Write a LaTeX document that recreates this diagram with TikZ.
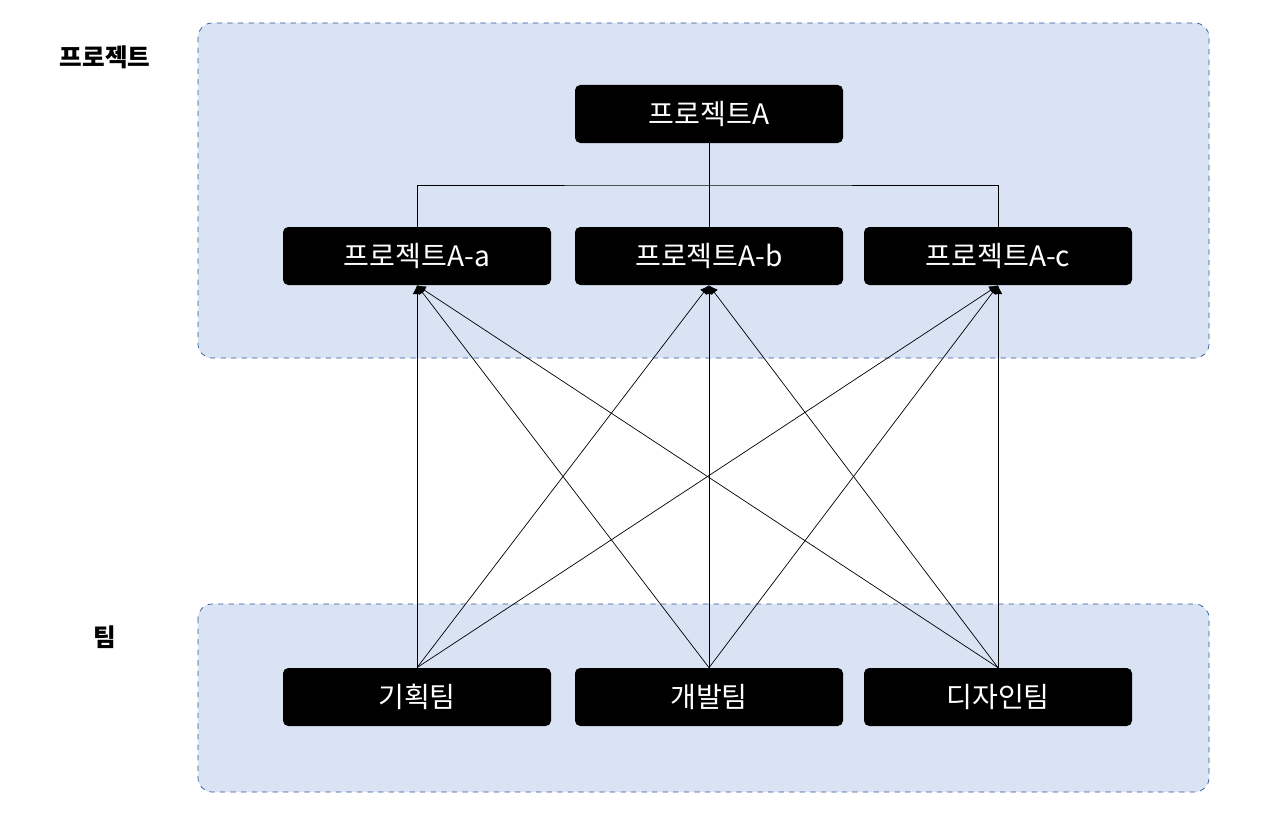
\documentclass[tikz,border=0pt]{standalone}
\usepackage{fontspec}
\setmainfont{Noto Sans CJK KR}
\usetikzlibrary{arrows.meta}
\definecolor{panel}{HTML}{DAE3F3}
\definecolor{panelline}{HTML}{2F5597}
\begin{document}
\begin{tikzpicture}[x=0.02cm,y=-0.02cm,
    panelbox/.style={fill=panel,draw=panelline,dashed,rounded corners=8pt},
    item/.style={fill=black,text=white,rounded corners=3pt,minimum width=268*0.02cm,
                 minimum height=58*0.02cm,inner sep=0pt,font=\fontsize{16}{18}\selectfont},
    title/.style={font=\bfseries\fontsize{14}{16}\selectfont},
    link/.style={-{Latex[length=5pt,width=5pt]},thin}]
  \useasboundingbox (0,0) rectangle (1280,838);
  \draw[panelbox] (198,23) rectangle (1209,358);
  \draw[panelbox] (198,604) rectangle (1209,792);
  \node[title] (lblP) at (105,57) {프로젝트};
  \node[title] (lblT) at (105,637) {팀};

  \node[item] (A)  at (709,114) {프로젝트A};
  \node[item] (Aa) at (417,256) {프로젝트A-a};
  \node[item] (Ab) at (709,256) {프로젝트A-b};
  \node[item] (Ac) at (998,256) {프로젝트A-c};
  \node[item] (T1) at (417,697) {기획팀};
  \node[item] (T2) at (709,697) {개발팀};
  \node[item] (T3) at (998,697) {디자인팀};

  \draw[thin] (A.south) -- (709,185) coordinate (hub);
  \draw[thin] (Aa.north) |- (hub) -| (Ac.north);
  \draw[thin] (hub) -- (Ab.north);

  \foreach \t in {T1,T2,T3}
    \foreach \p in {Aa,Ab,Ac}
      \draw[link] (\t.north) -- (\p.south);
\end{tikzpicture}
\end{document}
